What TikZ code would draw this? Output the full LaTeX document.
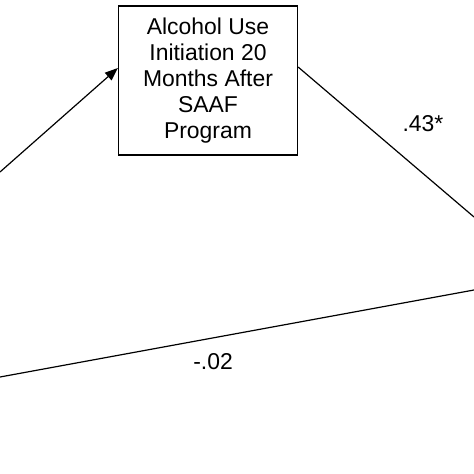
\documentclass[tikz,border=0pt]{standalone}
\usepackage{fontspec}
\setmainfont{Liberation Sans}
\usetikzlibrary{positioning,arrows.meta}

\begin{document}
\begin{tikzpicture}[
    x=1bp, y=-1bp,
    >={Triangle[length=13bp,width=10bp]},
    line width=1.2pt,
    every node/.style={font=\fontsize{23}{26}\selectfont},
    medbox/.style={draw, line width=1.2pt, align=center, inner sep=0pt,
                   minimum width=179bp, minimum height=149bp},
    pathlbl/.style={inner sep=0pt}
]
\useasboundingbox (0,0) rectangle (474,474);

% ========== mediator ==========
\node[medbox] (alc) at (208,80.5) {Alcohol Use\\Initiation 20\\Months After\\SAAF\\Program};

% ========== free ends (outside the picture) ==========
\coordinate (prog) at (0,172);
\coordinate (outA) at (474,217);
\coordinate (progB) at (0,377);
\coordinate (outB) at (474,290);

% ========== paths ==========
\draw[->] (prog) -- ([yshift=12.5bp]alc.west);
\draw ([yshift=13.5bp]alc.east) -- (outA);
\draw (progB) -- (outB);

% ========== coefficients ==========
\node[pathlbl] (bcoef) at (423,124) {.43*};
\node[pathlbl] (ccoef) at (213,362) {-.02};

\end{tikzpicture}
\end{document}
